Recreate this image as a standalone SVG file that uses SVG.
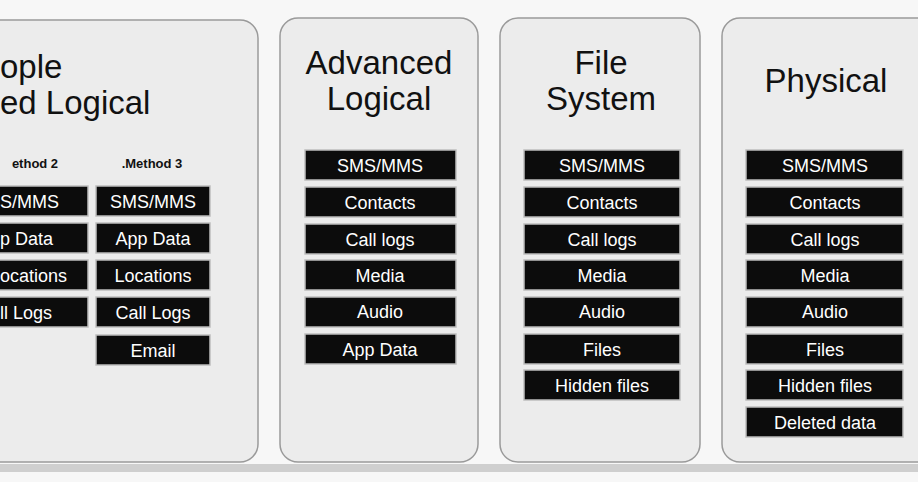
<svg xmlns="http://www.w3.org/2000/svg" width="918" height="482" viewBox="0 0 918 482">
<style>
.p{fill:#ececec;stroke:#9a9a9a;stroke-width:1.5}
.b{fill:#0c0c0c;stroke:#bdbdbd;stroke-width:1.5}
.t{font-family:"Liberation Sans",Arial,sans-serif;font-size:18px;fill:#fff;text-anchor:middle}
.h{font-family:"Liberation Sans",Arial,sans-serif;font-size:33px;fill:#111;text-anchor:middle}
.m{font-family:"Liberation Sans",Arial,sans-serif;font-size:13px;font-weight:bold;fill:#111;text-anchor:middle}
</style>
<rect width="918" height="482" fill="#f7f7f7"/>
<rect x="0" y="464" width="918" height="8" fill="#cfcfcf"/>
<g id="panel1">
<rect class="p" x="-30" y="20" width="288" height="442" rx="18"/>
<text class="h" x="0" y="78" style="text-anchor:start">ople</text>
<text class="h" x="0" y="114" style="text-anchor:start">ed Logical</text>
<text class="m" x="35" y="168">ethod 2</text>
<text class="m" x="152" y="168">.Method 3</text>
<rect class="b" x="-10" y="186" width="98" height="30"/><text class="t" x="0" y="208" style="text-anchor:start">S/MMS</text>
<rect class="b" x="-10" y="223" width="98" height="30"/><text class="t" x="0" y="245" style="text-anchor:start">p Data</text>
<rect class="b" x="-10" y="260" width="98" height="30"/><text class="t" x="0" y="282" style="text-anchor:start">ocations</text>
<rect class="b" x="-10" y="297" width="98" height="30"/><text class="t" x="0" y="319" style="text-anchor:start">ll Logs</text>
<rect class="b" x="96" y="186" width="114" height="30"/><text class="t" x="153" y="208">SMS/MMS</text>
<rect class="b" x="96" y="223" width="114" height="30"/><text class="t" x="153" y="245">App Data</text>
<rect class="b" x="96" y="260" width="114" height="30"/><text class="t" x="153" y="282">Locations</text>
<rect class="b" x="96" y="297" width="114" height="30"/><text class="t" x="153" y="319">Call Logs</text>
<rect class="b" x="96" y="335" width="114" height="30"/><text class="t" x="153" y="357">Email</text>
</g>
<g id="panel2">
<rect class="p" x="280" y="18" width="198" height="444" rx="18"/>
<text class="h" x="379" y="74">Advanced</text>
<text class="h" x="379" y="110">Logical</text>
<rect class="b" x="305" y="150" width="151" height="30"/><text class="t" x="380" y="172">SMS/MMS</text>
<rect class="b" x="305" y="187" width="151" height="30"/><text class="t" x="380" y="209">Contacts</text>
<rect class="b" x="305" y="224" width="151" height="30"/><text class="t" x="380" y="246">Call logs</text>
<rect class="b" x="305" y="260" width="151" height="30"/><text class="t" x="380" y="282">Media</text>
<rect class="b" x="305" y="297" width="151" height="30"/><text class="t" x="380" y="318">Audio</text>
<rect class="b" x="305" y="334" width="151" height="30"/><text class="t" x="380" y="356">App Data</text>
</g>
<g id="panel3">
<rect class="p" x="500" y="18" width="200" height="444" rx="18"/>
<text class="h" x="601" y="74">File</text>
<text class="h" x="601" y="110">System</text>
<rect class="b" x="524" y="150" width="156" height="30"/><text class="t" x="602" y="172">SMS/MMS</text>
<rect class="b" x="524" y="187" width="156" height="30"/><text class="t" x="602" y="209">Contacts</text>
<rect class="b" x="524" y="224" width="156" height="30"/><text class="t" x="602" y="246">Call logs</text>
<rect class="b" x="524" y="260" width="156" height="30"/><text class="t" x="602" y="282">Media</text>
<rect class="b" x="524" y="297" width="156" height="30"/><text class="t" x="602" y="318">Audio</text>
<rect class="b" x="524" y="334" width="156" height="30"/><text class="t" x="602" y="356">Files</text>
<rect class="b" x="524" y="370" width="156" height="30"/><text class="t" x="602" y="392">Hidden files</text>
</g>
<g id="panel4">
<rect class="p" x="722" y="18" width="220" height="444" rx="18"/>
<text class="h" x="826" y="92">Physical</text>
<rect class="b" x="746" y="150" width="157" height="30"/><text class="t" x="825" y="172">SMS/MMS</text>
<rect class="b" x="746" y="187" width="157" height="30"/><text class="t" x="825" y="209">Contacts</text>
<rect class="b" x="746" y="224" width="157" height="30"/><text class="t" x="825" y="246">Call logs</text>
<rect class="b" x="746" y="260" width="157" height="30"/><text class="t" x="825" y="282">Media</text>
<rect class="b" x="746" y="297" width="157" height="30"/><text class="t" x="825" y="318">Audio</text>
<rect class="b" x="746" y="334" width="157" height="30"/><text class="t" x="825" y="356">Files</text>
<rect class="b" x="746" y="370" width="157" height="30"/><text class="t" x="825" y="392">Hidden files</text>
<rect class="b" x="746" y="407" width="157" height="30"/><text class="t" x="825" y="429">Deleted data</text>
</g>
<g id="connectors"/>
</svg>
